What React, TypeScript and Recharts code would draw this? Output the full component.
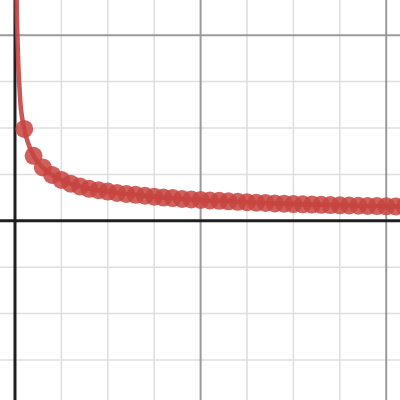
import React from "react";
import {
  ComposedChart,
  XAxis,
  YAxis,
  Line,
  Scatter,
  ReferenceLine,
} from "recharts";

// Sample points (x, y)
const pointX = [
  0.2, 0.4, 0.6, 0.8, 1.0, 1.2, 1.4, 1.6, 1.8, 2.0, 2.2, 2.4, 2.6, 2.8, 3.0,
  3.2, 3.4, 3.6, 3.8, 4.0, 4.2, 4.4, 4.6, 4.8, 5.0, 5.2, 5.4, 5.6, 5.8, 6.0,
  6.2, 6.4, 6.6, 6.8, 7.0, 7.2, 7.4, 7.6, 7.8, 8.0, 8.2, 8.4,
];
const pointY = [
  1.98, 1.4, 1.15, 0.99, 0.88, 0.8, 0.74, 0.69, 0.66, 0.63, 0.6, 0.58, 0.56,
  0.54, 0.52, 0.5, 0.49, 0.47, 0.46, 0.45, 0.44, 0.43, 0.42, 0.41, 0.4, 0.39,
  0.385, 0.375, 0.37, 0.36, 0.355, 0.35, 0.345, 0.34, 0.335, 0.33, 0.325,
  0.32, 0.317, 0.313, 0.31, 0.305,
];

// Steep start of the curve
const curveStartX = [0.028, 0.04, 0.054, 0.07, 0.09, 0.12, 0.15];
const curveStartY = [5.3, 4.45, 3.95, 3.4, 3.0, 2.5, 2.25];

// Grid positions
const minorX = [1, 2, 3, 5, 6, 7];
const majorX = [4, 8];
const minorY = [-3, -2, -1, 1, 2, 3];
const majorY = [4];

const xDomain: [number, number] = [-0.323, 8.297];
const yDomain: [number, number] = [-3.862, 4.759];

const RED = "#c74440";

const points = pointX.map((x, i) => ({ x, y: pointY[i] }));
const curve = [
  ...curveStartX.map((x, i) => ({ x, y: curveStartY[i] })),
  ...points,
];

const Dot = (props: any) => {
  const { cx, cy } = props;
  if (cx == null || cy == null) return null;
  return <circle cx={cx} cy={cy} r={9} fill={RED} fillOpacity={0.85} />;
};

export default function App() {
  return (
    <div style={{ position: "fixed", left: 0, top: 0, width: 400, height: 400, background: "#fff" }}>
      <ComposedChart
        width={400}
        height={400}
        margin={{ top: 0, right: 0, bottom: 0, left: 0 }}
      >
        <XAxis
          type="number"
          dataKey="x"
          domain={xDomain}
          allowDataOverflow
          hide
        />
        <YAxis
          type="number"
          dataKey="y"
          domain={yDomain}
          allowDataOverflow
          hide
          width={0}
        />
        {minorX.map((v) => (
          <ReferenceLine key={"mx" + v} x={v} stroke="#dedede" strokeWidth={1.5} />
        ))}
        {minorY.map((v) => (
          <ReferenceLine key={"my" + v} y={v} stroke="#dedede" strokeWidth={1.5} />
        ))}
        {majorX.map((v) => (
          <ReferenceLine key={"Mx" + v} x={v} stroke="#9a9a9a" strokeWidth={2} />
        ))}
        {majorY.map((v) => (
          <ReferenceLine key={"My" + v} y={v} stroke="#9a9a9a" strokeWidth={2} />
        ))}
        <ReferenceLine x={0} stroke="#1f1f1f" strokeWidth={3} />
        <ReferenceLine y={0} stroke="#1f1f1f" strokeWidth={3} />
        <Line
          data={curve}
          dataKey="y"
          type="monotone"
          stroke={RED}
          strokeWidth={4.5}
          strokeOpacity={0.9}
          dot={false}
          activeDot={false}
          isAnimationActive={false}
        />
        <Scatter
          data={points}
          dataKey="y"
          shape={<Dot />}
          isAnimationActive={false}
        />
      </ComposedChart>
    </div>
  );
}
